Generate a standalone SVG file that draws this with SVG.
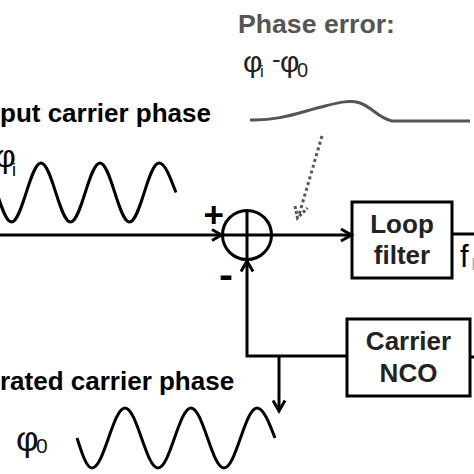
<svg xmlns="http://www.w3.org/2000/svg" width="474" height="474" viewBox="0 0 474 474">
<style>
.ln{fill:none;stroke:#000;stroke-width:3;stroke-linejoin:miter}
.wave{fill:none;stroke:#000;stroke-width:3}
.box{fill:#fff;stroke:#000;stroke-width:3}
.bt{font-family:"Liberation Sans",Arial,sans-serif;font-weight:bold;font-size:26px;fill:#222;text-anchor:middle}
.lbl{font-family:"Liberation Sans",Arial,sans-serif;font-weight:bold;fill:#000}
.sym{font-family:"Liberation Sans",Arial,sans-serif;fill:#222}
</style>
<rect width="474" height="474" fill="#fff"/>
<g id="phase-error">
<text x="238" y="33" class="lbl" style="fill:#555;font-size:26px" textLength="157" lengthAdjust="spacingAndGlyphs">Phase error:</text>
<text x="243" y="72" class="sym" style="font-size:30px">φ</text>
<text x="260" y="77" class="sym" style="font-size:17px">i</text>
<text x="272" y="68" class="sym" style="font-size:26px">-</text>
<text x="280" y="72" class="sym" style="font-size:30px">φ</text>
<text x="297" y="77" class="sym" style="font-size:20px">0</text>
<path d="M250,120 C280,121 300,112 325,106 C340,102 350,100 360,103 C372,107 378,118 392,121 L470,121" fill="none" stroke="#555" stroke-width="3"/>
</g>
<g id="input-phase">
<text x="0" y="122" class="lbl" style="font-size:26px">put carrier phase</text>
<text x="-5" y="167" class="sym" style="font-size:32px;fill:#000">φ</text>
<text x="12" y="176" class="sym" style="font-size:18px;fill:#000">i</text>
<path class="wave" d="M-3.25,192.5 C1.56,207.6 6.16,222 11.5,222 C22.24,222 30.26,163 41,163 C51.74,163 59.76,222 70.5,222 C81.24,222 89.26,163 100,163 C110.74,163 118.76,222 129.5,222 C140.24,222 148.26,163 159,163 C165.15,163 170.46,178.1 176,192.5"/>
</g>
<g id="generated-phase">
<text x="0" y="390" class="lbl" style="font-size:26px">rated carrier phase</text>
<text x="16" y="451" class="sym" style="font-size:35px;fill:#111">φ</text>
<text x="36" y="453" class="sym" style="font-size:21px;fill:#111">0</text>
<path class="wave" d="M77,438 C81.89,453.35 86.57,468 92,468 C104.02,468 112.98,408 125,408 C137.02,408 145.98,468 158,468 C170.02,468 178.98,408 191,408 C203.02,408 211.98,468 224,468 C236.02,468 244.98,408 257,408 C263.51,408 269.14,422.65 275,438"/>
</g>
<g id="summer">
<circle cx="247" cy="235" r="24.5" class="ln"/>
<path class="ln" d="M247,210.5 V259.5 M222.5,235 H271.5"/>
<text x="203.5" y="227" class="lbl" style="font-size:35px">+</text>
<text x="219" y="287" class="lbl" style="font-size:36px" textLength="14" lengthAdjust="spacingAndGlyphs">-</text>
</g>
<g id="loop-filter">
<rect x="352" y="202" width="100" height="76" class="box"/>
<text x="402" y="233" class="bt">Loop</text>
<text x="402" y="264" class="bt">filter</text>
</g>
<g id="carrier-nco">
<rect x="347" y="319" width="123" height="77" class="box"/>
<text x="408.5" y="350" class="bt">Carrier</text>
<text x="408.5" y="382" class="bt">NCO</text>
</g>
<g id="output-label">
<text x="460" y="267" class="sym" style="font-size:31px;fill:#000">f</text>
<text x="471.5" y="270" class="lbl" style="font-size:16px;fill:#aaa">l</text>
</g>
<g id="connectors">
<path class="ln" d="M0,235 H221"/>
<path class="ln" d="M212,229.5 L221.5,235 L212,240.5"/>
<path class="ln" d="M271.5,235 H351"/>
<path class="ln" d="M341,229 L351.5,235 L341,241"/>
<path class="ln" d="M452,234 H474"/>
<path class="ln" d="M470,357 H474"/>
<path class="ln" d="M347,356 H247 V261"/>
<path class="ln" d="M241,271.5 L247,261 L253,271.5"/>
<path class="ln" d="M279,356 V411"/>
<path class="ln" d="M273,400.5 L279,411 L285,400.5"/>
<path d="M322,136 L299,215" fill="none" stroke="#555" stroke-width="3" stroke-dasharray="3 3"/>
<path d="M295,206 L297.5,218 L307.5,208" fill="none" stroke="#555" stroke-width="3" stroke-dasharray="3 2"/>
</g>
</svg>
